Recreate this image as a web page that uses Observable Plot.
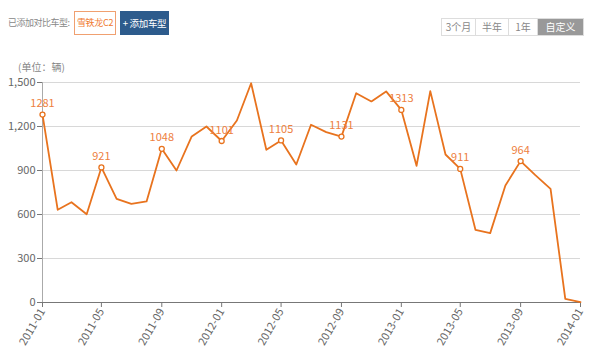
<!DOCTYPE html>
<html>
<head>
<meta charset="utf-8">
<script src="https://cdn.jsdelivr.net/npm/d3@7"></script>
<script src="https://cdn.jsdelivr.net/npm/@observablehq/plot@0.6"></script>
<style>
  html, body { margin: 0; padding: 0; background: #fff; }
  body { width: 600px; height: 361px; position: relative; overflow: hidden; font-family: "Noto Sans CJK SC", "Microsoft YaHei", sans-serif; }
  #chart { position: absolute; left: 0; top: 0; }
  .hdr { position: absolute; font-size: 9px; line-height: 1; white-space: nowrap; }
  #lbl { left: 8px; top: 18px; color: #888; letter-spacing: -0.5px; }
  #car { left: 74px; top: 11px; width: 40px; height: 22px; border: 1px solid #f0a070; color: #f07a30; text-align: center; line-height: 22px; letter-spacing: -0.3px; }
  #add { left: 120px; top: 11px; width: 49px; height: 24px; background: #2d5b8c; color: #fff; text-align: center; line-height: 24px; font-size: 9.5px; letter-spacing: -0.3px; }
  #btns { left: 441px; top: 18px; display: flex; border: 1px solid #ddd; height: 16px; }
  #btns div { height: 16px; line-height: 16px; text-align: center; color: #888; border-right: 1px solid #ddd; font-size: 10px; white-space: nowrap; }
  #btns div:last-child { border-right: none; background: #999; color: #fff; }
  #unit { left: 18px; top: 62px; color: #888; font-size: 10px; }
</style>
</head>
<body>
<div id="chart"></div>
<div class="hdr" id="lbl">已添加对比车型:</div>
<div class="hdr" id="car">雪铁龙C2</div>
<div class="hdr" id="add">+ 添加车型</div>
<div class="hdr" id="btns"><div style="width:33px">3个月</div><div style="width:32px">半年</div><div style="width:28px">1年</div><div style="width:45px">自定义</div></div>
<div class="hdr" id="unit">(单位：辆)</div>
<script>
const months = ["2011-01","2011-02","2011-03","2011-04","2011-05","2011-06","2011-07","2011-08","2011-09","2011-10","2011-11","2011-12",
  "2012-01","2012-02","2012-03","2012-04","2012-05","2012-06","2012-07","2012-08","2012-09","2012-10","2012-11","2012-12",
  "2013-01","2013-02","2013-03","2013-04","2013-05","2013-06","2013-07","2013-08","2013-09","2013-10","2013-11","2013-12","2014-01"];
const sales = [1281,632,684,602,921,707,673,689,1048,900,1132,1200,
  1101,1241,1495,1041,1105,941,1212,1162,1131,1427,1371,1439,
  1313,932,1441,1009,911,496,473,798,964,868,775,25,3];
const labeledMonths = ["2011-01","2011-05","2011-09","2012-01","2012-05","2012-09","2013-01","2013-05","2013-09"];
const yTicks = [0,300,600,900,1200,1500];
const xTickLabels = ["2011-01","2011-05","2011-09","2012-01","2012-05","2012-09","2013-01","2013-05","2013-09","2014-01"];

const parse = d3.utcParse("%Y-%m");
const data = months.map((m, i) => ({date: parse(m), month: m, value: sales[i]}));
const labeled = data.filter(d => labeledMonths.includes(d.month));
const xTicks = xTickLabels.map(parse);

const orange = "#e8731e";
const chart = Plot.plot({
  width: 600,
  height: 361,
  marginLeft: 42,
  marginRight: 20,
  marginTop: 82,
  marginBottom: 59,
  style: {fontFamily: "'Noto Sans CJK SC', sans-serif", fontSize: "11px", background: "transparent"},
  x: {type: "utc", domain: [parse("2011-01"), parse("2014-01")]},
  y: {domain: [0, 1500]},
  marks: [
    Plot.gridY(yTicks.filter(d => d > 0), {stroke: "#d8d8d8", strokeOpacity: 1, strokeWidth: 1}),
    Plot.ruleX([parse("2011-01")], {stroke: "#aaa", strokeWidth: 1}),
    Plot.ruleY([0], {stroke: "#777", strokeWidth: 1}),
    Plot.axisY(yTicks, {tickSize: 5, tickPadding: 2, tickFormat: d3.format(","), color: "#666", stroke: "#777", fontSize: 11, label: null}),
    Plot.axisX(xTicks, {tickSize: 5, tickRotate: -60, tickPadding: 2, tickFormat: d3.utcFormat("%Y-%m"), color: "#666", stroke: "#777", fontSize: 11, label: null}),
    Plot.lineY(data, {x: "date", y: "value", stroke: orange, strokeWidth: 1.8}),
    Plot.dot(labeled, {x: "date", y: "value", r: 2.5, stroke: orange, fill: "#fff", strokeWidth: 1.3}),
    Plot.text(labeled, {x: "date", y: "value", text: d => String(d.value), dy: -11, fill: "#ee8040", fontSize: 11})
  ]
});
document.getElementById("chart").appendChild(chart);
</script>
</body>
</html>
